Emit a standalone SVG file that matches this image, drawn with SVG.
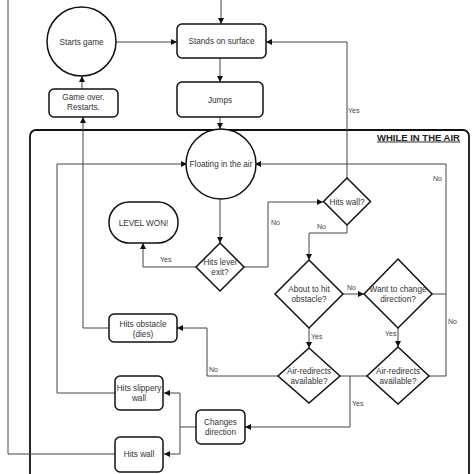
<svg xmlns="http://www.w3.org/2000/svg" width="474" height="474" viewBox="0 0 474 474">
<defs>
<marker id="ar" viewBox="0 0 10 10" refX="10" refY="5" markerWidth="6" markerHeight="6" markerUnits="userSpaceOnUse" orient="auto">
<path d="M0,0 L10,5 L0,10 Z" fill="#111"/>
</marker>
<style>
.n{fill:#fff;stroke:#111;stroke-width:1.5}
.t{font-family:"Liberation Sans",Arial,sans-serif;font-size:8.2px;fill:#333;text-anchor:middle}
.l{font-family:"Liberation Sans",Arial,sans-serif;font-size:7px;fill:#444}
.c{fill:none;stroke:#444;stroke-width:1}
.a{marker-end:url(#ar)}
</style>
</defs>
<rect width="474" height="474" fill="#fff"/>
<g id="group-air">
<rect x="30" y="130" width="439" height="360" rx="6" fill="none" stroke="#111" stroke-width="1.8"/>
<text x="460" y="140.5" font-family="Liberation Sans,Arial,sans-serif" font-size="9.5" font-weight="bold" fill="#222" text-anchor="end" text-decoration="underline">WHILE IN THE AIR</text>
</g>
<g id="connectors">
<path class="c a" d="M221,-2 V24"/>
<path class="c" d="M115,454 H8 V-2"/>
<path class="c a" d="M116,42 H177"/>
<path class="c a" d="M220,58 V82"/>
<path class="c a" d="M220,117 V129"/>
<path class="c a" d="M82,89 V76"/>
<path class="c a" d="M109,328 H83 V117"/>
<path class="c a" d="M115,393 H57 V164 H187"/>
<path class="c a" d="M220,199 V243"/>
<path class="c a" d="M196,267 H143 V243"/>
<text class="l" x="160" y="262">Yes</text>
<path class="c a" d="M244,267 H268 V202 H323"/>
<text class="l" x="271" y="225">No</text>
<path class="c a" d="M347,178 V42 H266"/>
<text class="l" x="348" y="113">Yes</text>
<path class="c a" d="M347,225 V233 H309 V260"/>
<text class="l" x="317" y="229">No</text>
<path class="c a" d="M343,294 H364"/>
<text class="l" x="347" y="290">No</text>
<path class="c" d="M432,294 H446"/>
<path class="c a" d="M429,376 H446 V164 H255"/>
<text class="l" x="433" y="181">No</text>
<text class="l" x="448" y="324">No</text>
<path class="c a" d="M309,328 V348"/>
<text class="l" x="311" y="339">Yes</text>
<path class="c a" d="M398,328 V347"/>
<text class="l" x="385" y="336">Yes</text>
<path class="c a" d="M278,376 H207 V328 H177"/>
<text class="l" x="209" y="372">No</text>
<path class="c" d="M340,376 H367"/>
<path class="c a" d="M350,376 V427 H245"/>
<text class="l" x="352" y="406">Yes</text>
<path class="c a" d="M196,427 H180 V393 H164"/>
<path class="c a" d="M180,427 V454 H164"/>
</g>
<g id="starts-game">
<circle class="n" cx="81.5" cy="41.5" r="34.5"/>
<text class="t" x="81.5" y="44.5">Starts game</text>
</g>
<g id="stands-on-surface">
<rect class="n" x="177" y="24" width="89" height="34" rx="5"/>
<text class="t" x="221.5" y="44">Stands on surface</text>
</g>
<g id="jumps">
<rect class="n" x="177" y="82" width="86" height="35" rx="5"/>
<text class="t" x="220" y="102.5">Jumps</text>
</g>
<g id="game-over">
<rect class="n" x="49" y="89" width="69" height="28" rx="5"/>
<text class="t" x="83.5" y="100">Game over.</text>
<text class="t" x="83.5" y="110">Restarts.</text>
</g>
<g id="floating">
<circle class="n" cx="221" cy="164" r="35"/>
<text class="t" x="221" y="167">Floating in the air</text>
</g>
<g id="level-won">
<rect class="n" x="109" y="202" width="69" height="41" rx="20"/>
<text class="t" x="143.5" y="225.5">LEVEL WON!</text>
</g>
<g id="hits-level-exit">
<polygon class="n" points="220,243 244,267 220,291 196,267"/>
<text class="t" x="220" y="265">Hits level</text>
<text class="t" x="220" y="275">exit?</text>
</g>
<g id="hits-wall-q">
<polygon class="n" points="347,178 370.5,201.5 347,225 323.5,201.5"/>
<text class="t" x="347" y="204.5">Hits wall?</text>
</g>
<g id="about-to-hit">
<polygon class="n" points="309,260 343,294 309,328 275,294"/>
<text class="t" x="309" y="292">About to hit</text>
<text class="t" x="309" y="302">obstacle?</text>
</g>
<g id="want-change">
<polygon class="n" points="398,259 432,294 398,328 364,294"/>
<text class="t" x="398" y="292">Want to change</text>
<text class="t" x="398" y="302">direction?</text>
</g>
<g id="air-redirects-1">
<polygon class="n" points="309,348 340,376 309,403 278,376"/>
<text class="t" x="309" y="374">Air-redirects</text>
<text class="t" x="309" y="383.5">available?</text>
</g>
<g id="air-redirects-2">
<polygon class="n" points="398,347 429,376 398,404 367,376"/>
<text class="t" x="398" y="374">Air-redirects</text>
<text class="t" x="398" y="383.5">available?</text>
</g>
<g id="hits-obstacle">
<rect class="n" x="109" y="314" width="68" height="28" rx="5"/>
<text class="t" x="143" y="327">Hits obstacle</text>
<text class="t" x="143" y="336.5">(dies)</text>
</g>
<g id="hits-slippery">
<rect class="n" x="115" y="376" width="48" height="34" rx="5"/>
<text class="t" x="139" y="391">Hits slippery</text>
<text class="t" x="139" y="401">wall</text>
</g>
<g id="changes-direction">
<rect class="n" x="196" y="410" width="49" height="34" rx="5"/>
<text class="t" x="220.5" y="425">Changes</text>
<text class="t" x="220.5" y="435">direction</text>
</g>
<g id="hits-wall">
<rect class="n" x="115" y="437" width="48" height="35" rx="5"/>
<text class="t" x="139" y="457">Hits wall</text>
</g>
</svg>
